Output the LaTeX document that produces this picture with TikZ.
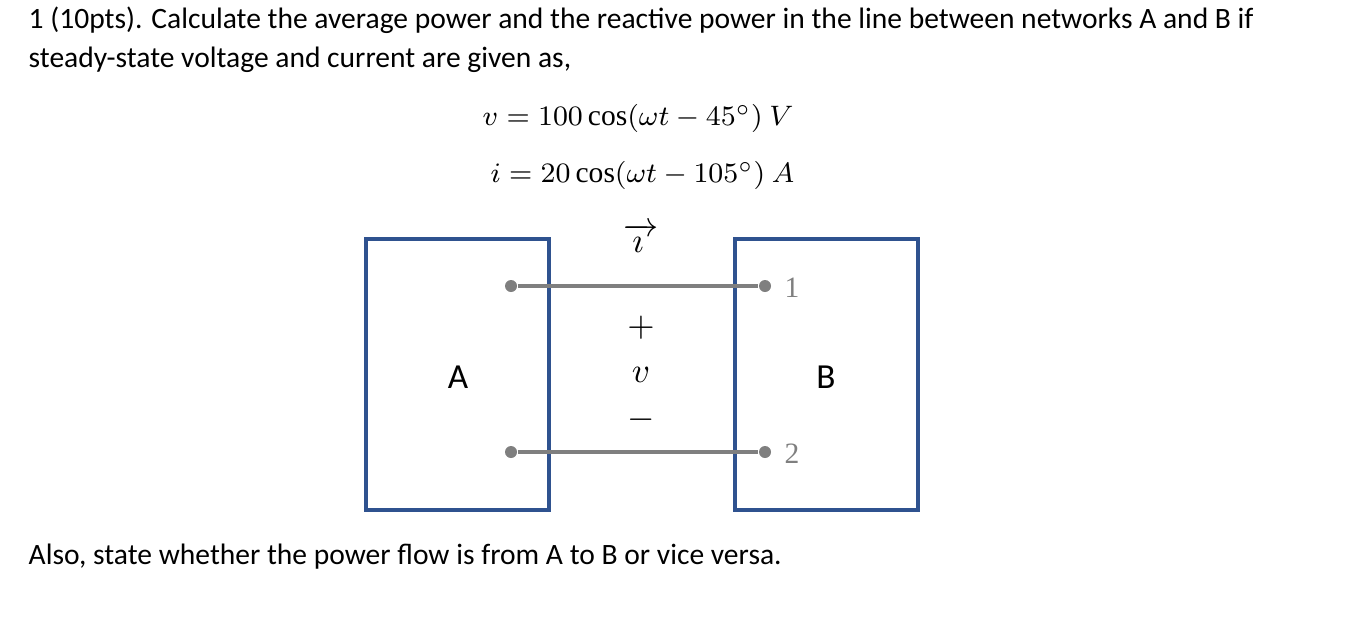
\documentclass[tikz,border=0pt]{standalone}
\usepackage{fontspec}
\setmainfont{Carlito}
\newfontfamily\serif{Liberation Serif}
\usepackage{amsmath}
\begin{document}
\begin{tikzpicture}[x=0.01cm,y=-0.01cm]
\definecolor{boxblue}{RGB}{47,82,143}
\definecolor{wire}{RGB}{127,127,127}
\tikzset{netbox/.style={draw=boxblue,line width=1.1pt},
 wireline/.style={draw=wire,line width=1.2pt},
 dot/.style={circle,fill=wire,inner sep=0pt,minimum size=0.12cm},
 txt/.style={font=\fontsize{8.4pt}{10pt}\selectfont,anchor=west,inner sep=0pt},
 mth/.style={font=\fontsize{8.4pt}{10pt}\selectfont,inner sep=0pt},
 big/.style={font=\fontsize{10pt}{12pt}\selectfont,inner sep=0pt}}
\useasboundingbox (0,0) rectangle (1346,627);
\node[txt] (t1) at (28,20) {1 (10pts). Calculate the average power and the reactive power in the line between networks A and B if};
\node[txt] (t2) at (28,60) {steady-state voltage and current are given as,};
\node[mth,anchor=west] (e1) at (482,118) {$v = 100\,\text{\serif cos}(\omega t-45^\circ)\ V$};
\node[mth,anchor=west] (e2) at (490,175) {$i = 20\,\text{\serif cos}(\omega t-105^\circ)\ A$};
\draw[netbox] (366,239) rectangle (549,510);
\draw[netbox] (735,239) rectangle (918,510);
\node[big] (la) at (458,377) {A};
\node[big] (lb) at (826,377) {B};
\node[dot] (a1) at (511,286) {};
\node[dot] (b1) at (765,286) {};
\node[dot] (a2) at (511,452) {};
\node[dot] (b2) at (765,452) {};
\draw[wireline] (a1) -- (b1);
\draw[wireline] (a2) -- (b2);
\node[mth,text=wire,font=\serif\fontsize{8.4pt}{10pt}\selectfont] (n1) at (792,288) {1};
\node[mth,text=wire,font=\serif\fontsize{8.4pt}{10pt}\selectfont] (n2) at (792,454) {2};
\node[big] (iv) at (641,238) {$\overrightarrow{\imath\,}$};
\node[big] (pl) at (641,328) {$+$};
\node[big] (vv) at (641,375) {$v$};
\node[big] (mi) at (641,420) {$-$};
\node[txt] (t3) at (28,557) {Also, state whether the power flow is from A to B or vice versa.};
\end{tikzpicture}
\end{document}
